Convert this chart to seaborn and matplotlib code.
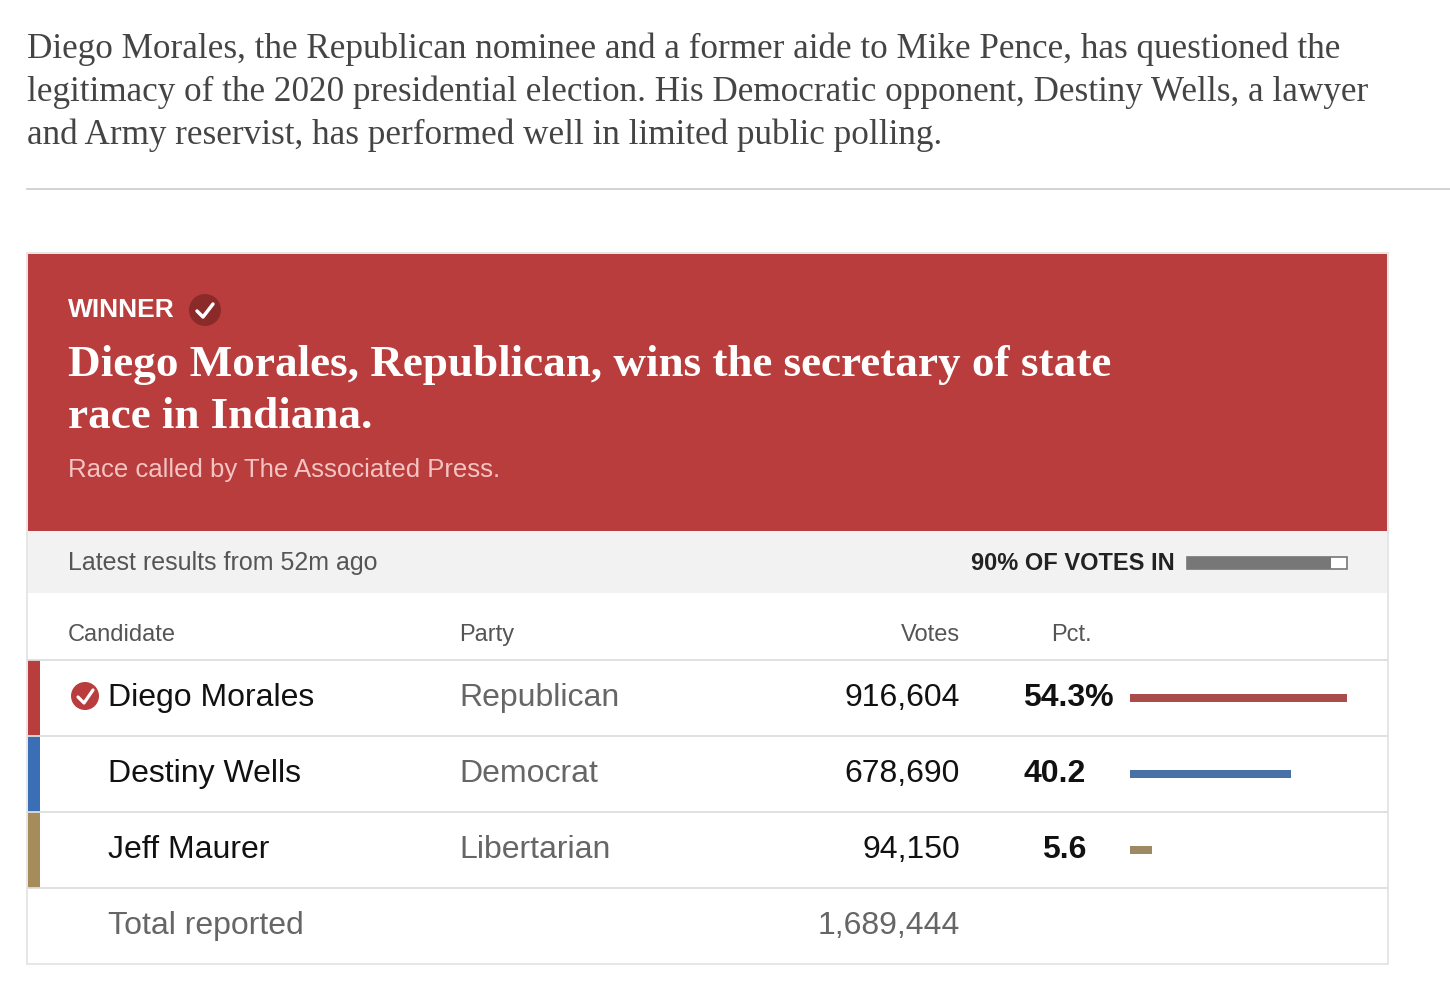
import matplotlib
matplotlib.use('Agg')
import matplotlib.pyplot as plt
from matplotlib.patches import Rectangle, Circle
import seaborn as sns
import pandas as pd

candidates = ['Diego Morales', 'Destiny Wells', 'Jeff Maurer']
parties = ['Republican', 'Democrat', 'Libertarian']
votes = [916604, 678690, 94150]
pct = [54.3, 40.2, 5.6]
pct_labels = ['54.3%', '40.2', '5.6']
colors = ['#b83d3c', '#3a6fb5', '#a68c5a']
total = 1689444
votes_in = 90

W, H = 1450, 984
fig = plt.figure(figsize=(14.5, 9.84), dpi=100)
ax = fig.add_axes([0, 0, 1, 1])
ax.set_xlim(0, W)
ax.set_ylim(H, 0)
ax.axis('off')

serif = 'Liberation Serif'
sans = 'Liberation Sans'

intro = ['Diego Morales, the Republican nominee and a former aide to Mike Pence, has questioned the',
         'legitimacy of the 2020 presidential election. His Democratic opponent, Destiny Wells, a lawyer',
         'and Army reservist, has performed well in limited public polling.']
for k, line in enumerate(intro):
    ax.text(27, 49 + 43 * k, line, fontsize=25.3, family=serif, color='#444444', va='center')
ax.plot([27, 1450], [189, 189], color='#cccccc', lw=1.2)

# card shadow and body
ax.add_patch(Rectangle((26, 252), 1363, 713, facecolor='#e6e6e6', edgecolor='none'))
ax.add_patch(Rectangle((28, 254), 1359, 709, facecolor='white', edgecolor='none'))
ax.add_patch(Rectangle((28, 254), 1359, 277, facecolor='#b83d3c', edgecolor='none'))
ax.text(68, 310, 'WINNER', fontsize=19, family=sans, weight='bold', color='white', va='center')
ax.add_patch(Circle((205, 310), 16, facecolor='#8a2a29', edgecolor='none'))
ax.plot([197, 203, 213], [311, 317, 304], color='white', lw=2.5, solid_capstyle='round')
ax.text(68, 365, 'Diego Morales, Republican, wins the secretary of state',
        fontsize=32.5, family=serif, weight='bold', color='white', va='center')
ax.text(68, 417, 'race in Indiana.',
        fontsize=32.5, family=serif, weight='bold', color='white', va='center')
ax.text(68, 470, 'Race called by The Associated Press.', fontsize=18.5, family=sans,
        color='#f3c4c3', va='center')

# status strip
ax.add_patch(Rectangle((28, 531), 1359, 62, facecolor='#f2f2f2', edgecolor='none'))
ax.text(68, 563, 'Latest results from 52m ago', fontsize=18, family=sans, color='#555555', va='center')
ax.text(1175, 563, f'{votes_in}% OF VOTES IN', fontsize=17, family=sans, weight='bold',
        color='#222222', va='center', ha='right')
ax.add_patch(Rectangle((1187, 557), 160, 12, facecolor='white', edgecolor='#777777', lw=1.2))
ax.add_patch(Rectangle((1187, 557), 160 * votes_in / 100, 12, facecolor='#777777', edgecolor='none'))

# headers
hy = 635
ax.text(68, hy, 'Candidate', fontsize=17, family=sans, color='#555555', va='center')
ax.text(459, hy, 'Party', fontsize=17, family=sans, color='#555555', va='center')
ax.text(960, hy, 'Votes', fontsize=17, family=sans, color='#555555', va='center', ha='right')
ax.text(1092, hy, 'Pct.', fontsize=17, family=sans, color='#555555', va='center', ha='right')

row_top = 660
row_h = 76
for i in range(len(candidates)):
    y0 = row_top + i * row_h
    yc = y0 + row_h / 2
    ax.plot([28, 1387], [y0, y0], color='#dddddd', lw=1.3)
    ax.add_patch(Rectangle((28, y0), 12, row_h, facecolor=colors[i], edgecolor='none'))
    ax.text(108, yc, candidates[i], fontsize=23, family=sans, color='#111111', va='center')
    ax.text(459, yc, parties[i], fontsize=23, family=sans, color='#666666', va='center')
    ax.text(960, yc, f'{votes[i]:,}', fontsize=23, family=sans, color='#111111', va='center', ha='right')
    ax.text(1086 if i else 1114, yc, pct_labels[i], fontsize=23, family=sans, weight='bold',
            color='#111111', va='center', ha='right')
ax.add_patch(Circle((85, 696), 14, facecolor='#b83d3c', edgecolor='none'))
ax.plot([78, 84, 93], [697, 703, 690], color='white', lw=2.3, solid_capstyle='round')
yb = row_top + 3 * row_h
ax.plot([28, 1387], [yb, yb], color='#dddddd', lw=1.3)
ax.text(108, yb + 38, 'Total reported', fontsize=23, family=sans, color='#666666', va='center')
ax.text(960, yb + 38, f'{total:,}', fontsize=23, family=sans, color='#666666', va='center', ha='right')

# pct bars
bx = fig.add_axes([1130 / W, 1 - (row_top + 3 * row_h) / H, 217 / W, 3 * row_h / H])
df = pd.DataFrame({'cand': candidates, 'pct': pct})
sns.barplot(data=df, x='pct', y='cand', hue='cand', palette=colors, orient='h',
            width=0.11, ax=bx, legend=False)
bx.set_xlim(0, max(pct))
bx.set_ylim(2.5, -0.5)
bx.axis('off')

fig.savefig('out.png', dpi=100)
